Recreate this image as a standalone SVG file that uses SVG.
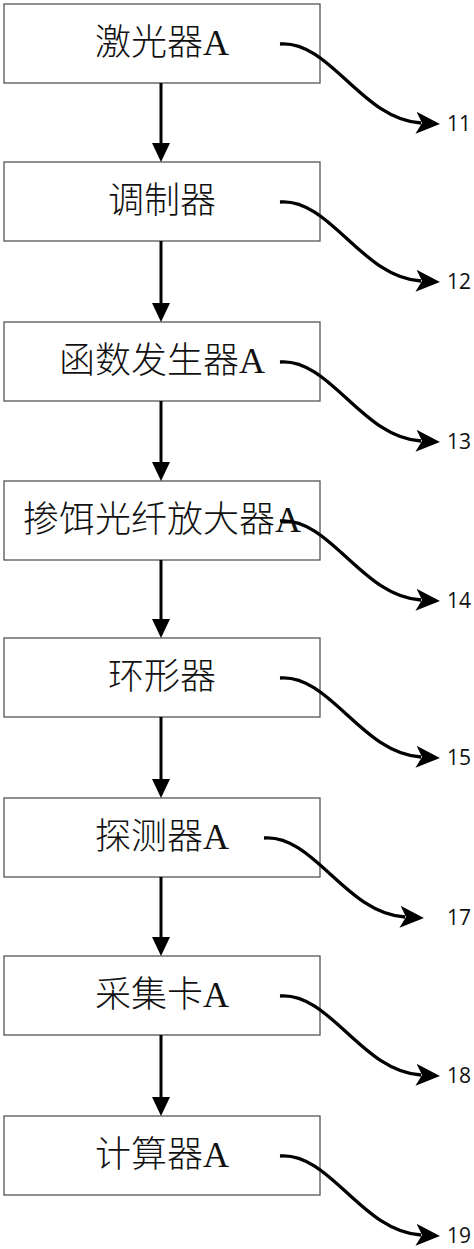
<svg xmlns="http://www.w3.org/2000/svg" width="474" height="1249" viewBox="0 0 474 1249">
<defs>
<style>
.box{fill:#fff;stroke:#555;stroke-width:1.3}
.t{font-family:"Liberation Serif","Noto Sans CJK SC",serif;font-size:36px;font-weight:300;fill:#111;text-anchor:middle}
.lbl{font-family:"Open Sans","Liberation Sans",sans-serif;font-size:21px;fill:#111}
.ln{fill:none;stroke:#000;stroke-width:3}
.cv{fill:none;stroke:#000;stroke-width:3.3}
</style>
<marker id="vh" markerUnits="userSpaceOnUse" viewBox="0 0 19 18" markerWidth="19" markerHeight="18" refX="0" refY="9" orient="auto">
<path d="M0,0 L19,9 L0,18 z" fill="#000"/>
</marker>
<marker id="ch" markerUnits="userSpaceOnUse" viewBox="0 0 24 22" markerWidth="24" markerHeight="22" refX="5" refY="11" orient="auto">
<path d="M0,0 L24,11 L0,22 L6,11 z" fill="#000"/>
</marker>
</defs>
<g id="n1"><rect class="box" x="4" y="4" width="316" height="79"/><text class="t" x="162" y="55">激光器A</text></g>
<g id="n2"><rect class="box" x="4" y="162" width="316" height="79"/><text class="t" x="162" y="213">调制器</text></g>
<g id="n3"><rect class="box" x="4" y="322" width="316" height="79"/><text class="t" x="162" y="373">函数发生器A</text></g>
<g id="n4"><rect class="box" x="4" y="481" width="316" height="79"/><text class="t" x="162" y="532">掺饵光纤放大器A</text></g>
<g id="n5"><rect class="box" x="4" y="638" width="316" height="79"/><text class="t" x="162" y="689">环形器</text></g>
<g id="n6"><rect class="box" x="4" y="798" width="316" height="79"/><text class="t" x="162" y="849">探测器A</text></g>
<g id="n7"><rect class="box" x="4" y="956" width="316" height="79"/><text class="t" x="162" y="1007">采集卡A</text></g>
<g id="n8"><rect class="box" x="4" y="1116" width="316" height="79"/><text class="t" x="162" y="1167">计算器A</text></g>
<g id="connectors">
<path class="ln" marker-end="url(#vh)" d="M161,83 V143"/>
<path class="ln" marker-end="url(#vh)" d="M161,241 V303"/>
<path class="ln" marker-end="url(#vh)" d="M161,401 V462"/>
<path class="ln" marker-end="url(#vh)" d="M161,560 V619"/>
<path class="ln" marker-end="url(#vh)" d="M161,717 V779"/>
<path class="ln" marker-end="url(#vh)" d="M161,877 V937"/>
<path class="ln" marker-end="url(#vh)" d="M161,1035 V1097"/>
<path class="cv" marker-end="url(#ch)" d="M280,44 C330,40 362,120 421,123"/>
<path class="cv" marker-end="url(#ch)" d="M280,202 C330,198 362,278 421,281"/>
<path class="cv" marker-end="url(#ch)" d="M280,362 C330,358 362,438 421,441"/>
<path class="cv" marker-end="url(#ch)" d="M280,521 C330,517 362,597 421,600"/>
<path class="cv" marker-end="url(#ch)" d="M280,678 C330,674 362,754 421,757"/>
<path class="cv" marker-end="url(#ch)" d="M264,838 C314,834 346,914 405,917"/>
<path class="cv" marker-end="url(#ch)" d="M280,996 C330,992 362,1072 421,1075"/>
<path class="cv" marker-end="url(#ch)" d="M280,1156 C330,1152 362,1232 421,1235"/>
</g>
<g id="labels">
<text class="lbl" x="447" y="131">11</text>
<text class="lbl" x="447" y="289">12</text>
<text class="lbl" x="447" y="449">13</text>
<text class="lbl" x="447" y="608">14</text>
<text class="lbl" x="447" y="765">15</text>
<text class="lbl" x="447" y="925">17</text>
<text class="lbl" x="447" y="1083">18</text>
<text class="lbl" x="447" y="1243">19</text>
</g>
</svg>
